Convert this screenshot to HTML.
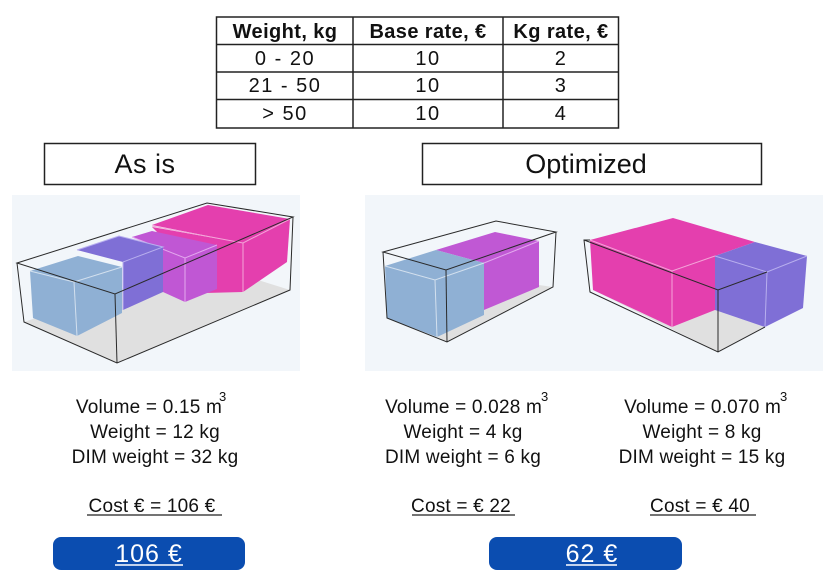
<!DOCTYPE html>
<html><head><meta charset="utf-8"><style>
html,body{margin:0;padding:0;background:#fff;}
svg{display:block;}
text{font-family:"Liberation Sans",sans-serif;fill:#111;}
</style></head><body>
<svg width="835" height="584" viewBox="0 0 835 584" xmlns="http://www.w3.org/2000/svg">
<!-- Table -->
<g stroke="#222" stroke-width="1.5" fill="none">
<rect x="216.5" y="17" width="402" height="111"/>
<line x1="216" y1="44.5" x2="618" y2="44.5"/>
<line x1="216" y1="72" x2="618" y2="72"/>
<line x1="216" y1="99.5" x2="618" y2="99.5"/>
<line x1="353" y1="17" x2="353" y2="128"/>
<line x1="503" y1="17" x2="503" y2="128"/>
</g>
<g font-size="20" text-anchor="middle" font-weight="bold" letter-spacing="0.4">
<text x="285" y="38">Weight, kg</text>
<text x="428" y="38">Base rate, €</text>
<text x="561" y="38">Kg rate, €</text>
</g>
<g font-size="20" text-anchor="middle" letter-spacing="1.5">
<text x="285" y="65">0 - 20</text>
<text x="428" y="65">10</text>
<text x="561" y="65">2</text>
<text x="285" y="92">21 - 50</text>
<text x="428" y="92">10</text>
<text x="561" y="92">3</text>
<text x="285" y="120">&gt; 50</text>
<text x="428" y="120">10</text>
<text x="561" y="120">4</text>
</g>

<!-- Titles -->
<rect x="44.5" y="143.5" width="211" height="41" fill="#fff" stroke="#222" stroke-width="1.5"/>
<text x="145" y="173" font-size="27" text-anchor="middle" letter-spacing="0.5">As is</text>
<rect x="422.5" y="143.5" width="339" height="41" fill="#fff" stroke="#222" stroke-width="1.5"/>
<text x="586" y="173" font-size="27" text-anchor="middle">Optimized</text>

<!-- Left panel -->
<rect x="12" y="195" width="288" height="176" fill="#f2f6fa"/>
<polygon points="24,322 117,363 290,290 200,262" fill="#e0e0e0"/>
<!-- pink -->
<polygon points="152,225 208,205 290,219 243,243" fill="#e43fae"/>
<polygon points="152,227 243,243 243,292 205,293 175,250" fill="#e43fae"/>
<polygon points="243,243 290,219 287,262 243,292" fill="#e43fae"/>
<polyline points="152,226 243,243 290,219" stroke="#f3a4d8" stroke-width="1" fill="none"/>
<line x1="243" y1="243" x2="243" y2="292" stroke="#f3a4d8" stroke-width="1"/>
<!-- violet -->
<polygon points="132,237 152,231 217,245 185,258" fill="#c057d4"/>
<polygon points="163,247 185,258 185,302 163,292" fill="#c057d4"/>
<polygon points="185,258 217,245 217,289 185,302" fill="#c057d4"/>
<polyline points="132,237 185,258 217,245" stroke="#e3a8ee" stroke-width="1" fill="none"/>
<line x1="185" y1="258" x2="185" y2="302" stroke="#e3a8ee" stroke-width="1"/>
<!-- purple -->
<polygon points="77,250 119,236 163,247 123,262" fill="#7f6fd6"/>
<polygon points="123,262 163,247 163,292 123,310" fill="#7f6fd6"/>
<polyline points="77,250 119,236 163,247 123,262" stroke="#b8afee" stroke-width="1" fill="none"/>
<line x1="123" y1="262" x2="123" y2="310" stroke="#b8afee" stroke-width="1"/>
<!-- blue -->
<polygon points="30,271 78,256 122,267 74,282" fill="#8fb0d4"/>
<polygon points="30,271 74,282 77,336 33,318" fill="#8fb0d4"/>
<polygon points="74,282 122,267 122,313 77,336" fill="#8fb0d4"/>
<polyline points="30,271 74,282 122,267" stroke="#d3e0ee" stroke-width="1" fill="none"/>
<line x1="74" y1="282" x2="77" y2="336" stroke="#d3e0ee" stroke-width="1"/>
<!-- wireframe -->
<g stroke="#2a2a2a" stroke-width="1" fill="none">
<polygon points="17,263 207,203 293,217 115,294"/>
<polyline points="17,263 24,322 117,363 290,290 293,217"/>
<line x1="115" y1="294" x2="117" y2="363"/>
</g>

<!-- Right panel -->
<rect x="365" y="195" width="458" height="176" fill="#f2f6fa"/>
<!-- small container -->
<polygon points="437,337 447,342 553,287 539,285 484,310" fill="#e0e0e0"/>
<polygon points="436,250 495,232 539,241 484,263" fill="#c058d4"/>
<polygon points="484,263 539,241 539,287 484,310" fill="#c058d4"/>
<polyline points="484,263 539,241" stroke="#e3a8ee" stroke-width="1" fill="none"/>
<polygon points="385,266 436,250 484,263 435,280" fill="#8fb0d4"/>
<polygon points="385,266 435,280 437,337 387,318" fill="#8fb0d4"/>
<polygon points="435,280 484,263 484,315 437,337" fill="#8fb0d4"/>
<polyline points="385,266 435,280 484,263" stroke="#d3e0ee" stroke-width="1" fill="none"/>
<line x1="435" y1="280" x2="437" y2="337" stroke="#d3e0ee" stroke-width="1"/>
<g stroke="#2a2a2a" stroke-width="1" fill="none">
<polygon points="383,252 496,221 556,232 446,270"/>
<polyline points="383,252 387,318 447,342 553,287 556,232"/>
<line x1="446" y1="270" x2="447" y2="342"/>
</g>
<!-- large container -->
<polygon points="593,290 718,352 765,327 715,310 672,327" fill="#e0e0e0"/>
<polygon points="590,240 673,218 755,242 672,271" fill="#e43fae"/>
<polygon points="590,240 672,271 672,327 593,290" fill="#e43fae"/>
<polygon points="672,271 715,256 715,310 672,327" fill="#e43fae"/>
<polyline points="590,240 672,271 715,256" stroke="#f3a4d8" stroke-width="1" fill="none"/>
<line x1="672" y1="271" x2="672" y2="327" stroke="#f3a4d8" stroke-width="1"/>
<polygon points="715,256 755,242 807,256 767,272" fill="#7f6fd6"/>
<polygon points="715,256 767,272 765,327 715,310" fill="#7f6fd6"/>
<polygon points="767,272 807,256 803,308 765,327" fill="#7f6fd6"/>
<polyline points="715,256 767,272 807,256" stroke="#b8afee" stroke-width="1" fill="none"/>
<line x1="767" y1="272" x2="765" y2="327" stroke="#b8afee" stroke-width="1"/>
<g stroke="#2a2a2a" stroke-width="1" fill="none">
<polyline points="590,240 584,240 590,292 718,352 765,327"/>
<polyline points="584,240 718,290 767,272"/>
<line x1="718" y1="290" x2="718" y2="352"/>
</g>

<!-- Texts -->
<g font-size="19" letter-spacing="0.2">
<text x="222" y="413" text-anchor="end">Volume = 0.15 m</text>
<text x="219" y="401" font-size="13">3</text>
<text x="155" y="438" text-anchor="middle">Weight = 12 kg</text>
<text x="155" y="463" text-anchor="middle">DIM weight = 32 kg</text>
<text x="152" y="512" text-anchor="middle">Cost € = 106 €</text>
<line x1="87" y1="515" x2="222" y2="515" stroke="#222" stroke-width="1.3"/>

<text x="542" y="413" text-anchor="end">Volume = 0.028 m</text>
<text x="541" y="401" font-size="13">3</text>
<text x="463" y="438" text-anchor="middle">Weight = 4 kg</text>
<text x="463" y="463" text-anchor="middle">DIM weight = 6 kg</text>
<text x="461" y="512" text-anchor="middle">Cost = € 22</text>
<line x1="412" y1="515" x2="515" y2="515" stroke="#222" stroke-width="1.3"/>

<text x="781" y="413" text-anchor="end">Volume = 0.070 m</text>
<text x="780" y="401" font-size="13">3</text>
<text x="702" y="438" text-anchor="middle">Weight = 8 kg</text>
<text x="702" y="463" text-anchor="middle">DIM weight = 15 kg</text>
<text x="700" y="512" text-anchor="middle">Cost = € 40</text>
<line x1="650" y1="515" x2="756" y2="515" stroke="#222" stroke-width="1.3"/>
</g>

<!-- Buttons -->
<rect x="53" y="537" width="192" height="33" rx="8" fill="#0b4db0"/>
<text x="149" y="562" font-size="25" text-anchor="middle" letter-spacing="1" style="fill:#fff">106 €</text>
<line x1="115" y1="565" x2="183" y2="565" stroke="#fff" stroke-width="1.4"/>
<rect x="489" y="537" width="193" height="33" rx="8" fill="#0b4db0"/>
<text x="592" y="562" font-size="25" text-anchor="middle" letter-spacing="1" style="fill:#fff">62 €</text>
<line x1="566" y1="565" x2="617" y2="565" stroke="#fff" stroke-width="1.4"/>
</svg>
</body></html>
